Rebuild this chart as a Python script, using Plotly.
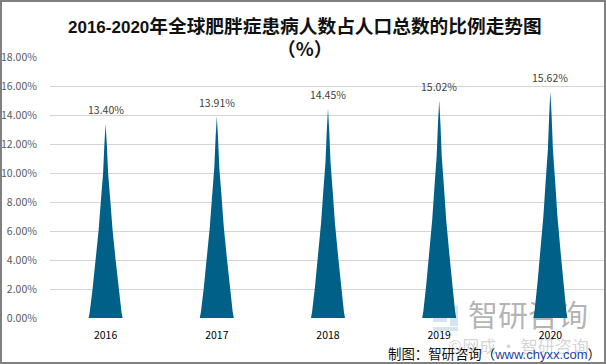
import plotly.graph_objects as go

years = ["2016", "2017", "2018", "2019", "2020"]
shares = [13.40, 13.91, 14.45, 15.02, 15.62]
y_ticks = [0, 2, 4, 6, 8, 10, 12, 14, 16, 18]
y_labels = ["0.00%", "2.00%", "4.00%", "6.00%", "8.00%", "10.00%", "12.00%", "14.00%", "16.00%", "18.00%"]
title_years = "2016-2020"
title_rest = "年全球肥胖症患病人数占人口总数的比例走势图"
title_unit = "（%）"
source_label = "制图：智研咨询（"
source_url = "www.chyxx.com"
watermark_main = "智研咨询"
watermark_sub = "©网成 · 智研咨询"

# Outline of the pointed column: fraction of height -> half width in category units
spike_height = [0, 0.03, 0.15, 0.30, 0.45, 0.60, 0.746, 0.896, 1]
spike_half_width = [0.153, 0.143, 0.117, 0.09, 0.063, 0.043, 0.0225, 0.0108, 0]

W, H = 606, 364
L, R, T, B = 50, 0, 57, 46
PW, PH = W - L - R, H - T - B
SANS = "Noto Sans CJK SC, Noto Sans, sans-serif"
px = lambda x: (x - L) / PW
py = lambda y: 1 - (y - T) / PH
dx = lambda x: (x - L) / PW * 5 - 0.5
dy = lambda y: (T + PH - y) / PH * 18

fig = go.Figure()
# Watermark sits beneath the columns
fig.add_trace(go.Scatter(x=[dx(528)], y=[dy(318)], mode="text", text=[watermark_main], textposition="middle center",
                         textfont=dict(family=SANS, size=30, color="rgba(130,130,130,0.60)"),
                         showlegend=False, hoverinfo="skip", cliponaxis=False))

for i, (yr, v) in enumerate(zip(years, shares)):
    xs = [i - w for w in spike_half_width] + [i + w for w in reversed(spike_half_width)]
    ys = [v * h for h in spike_height] + [v * h for h in reversed(spike_height)]
    fig.add_trace(go.Scatter(x=xs, y=ys, mode="lines", fill="toself", fillcolor="#006088",
                             line=dict(width=0, color="#006088"), hoverinfo="skip", showlegend=False, name=yr))

shapes = [
    dict(type="rect", xref="paper", yref="paper", x0=px(1), x1=px(W - 1), y0=py(H - 1), y1=py(1),
         line=dict(color="#808080", width=2), fillcolor="rgba(0,0,0,0)", layer="above"),
]
for (x0, y0, x1, y1) in [(433, 307, 447, 311), (433, 318, 447, 322), (433, 327, 458, 331), (450, 306, 458, 326)]:
    shapes.append(dict(type="rect", xref="paper", yref="paper", x0=px(x0), x1=px(x1), y0=py(y1), y1=py(y0),
                       line=dict(width=0), fillcolor="rgba(120,165,210,0.30)", layer="below"))

annotations = [
    dict(text=f"<span style='font-family:Liberation Sans;font-size:17px'><b>{title_years}</b></span><b>{title_rest}</b>",
         xref="paper", yref="paper", x=px(304.5), y=py(24), xanchor="center", yanchor="middle", showarrow=False,
         font=dict(family=SANS, size=18.7, color="#111111")),
    dict(text=f"<b>{title_unit}</b>", xref="paper", yref="paper", x=px(304), y=py(48), xanchor="center", yanchor="middle",
         showarrow=False, font=dict(family=SANS, size=18.7, color="#111111")),
    dict(text=watermark_sub, xref="paper", yref="paper", x=px(518), y=py(345), xanchor="center", yanchor="middle",
         showarrow=False, font=dict(family=SANS, size=17, color="rgba(130,130,130,0.35)")),
    dict(text=f"{source_label}<span style='font-family:Liberation Sans;font-size:13px;color:#1f3f9f'>{source_url}</span>）",
         xref="paper", yref="paper", x=px(603), y=py(352.5), xanchor="right", yanchor="middle", showarrow=False,
         font=dict(family=SANS, size=13.4, color="#111111")),
]
for i, v in enumerate(shares):
    annotations.append(dict(text=f"{v:.2f}%", x=i, y=v, xref="x", yref="y", yshift=14, xanchor="center",
                            yanchor="middle", showarrow=False, font=dict(family=SANS, size=10.5, color="#404040")))

fig.update_layout(
    width=W, height=H, autosize=False,
    margin=dict(l=L, r=R, t=T, b=B),
    paper_bgcolor="white", plot_bgcolor="white",
    xaxis=dict(range=[-0.5, 4.5], tickmode="array", tickvals=list(range(len(years))), ticktext=years,
               showgrid=False, zeroline=False, showline=False, ticks="outside", ticklen=7,
               tickcolor="rgba(0,0,0,0)", tickfont=dict(family=SANS, size=10.5, color="#000000")),
    yaxis=dict(range=[0, 18], tickmode="array", tickvals=y_ticks, ticktext=y_labels,
               showgrid=True, gridcolor="#d4d4d4", gridwidth=1, zeroline=False, showline=False, ticks="outside",
               ticklen=10, tickcolor="rgba(0,0,0,0)",
               tickfont=dict(family=SANS, size=10.5, color="#595959")),
    shapes=shapes, annotations=annotations, showlegend=False,
)
fig.write_html("out.html", config={"displayModeBar": False},
               post_script="document.body.style.margin='0';document.body.style.overflow='hidden';")
